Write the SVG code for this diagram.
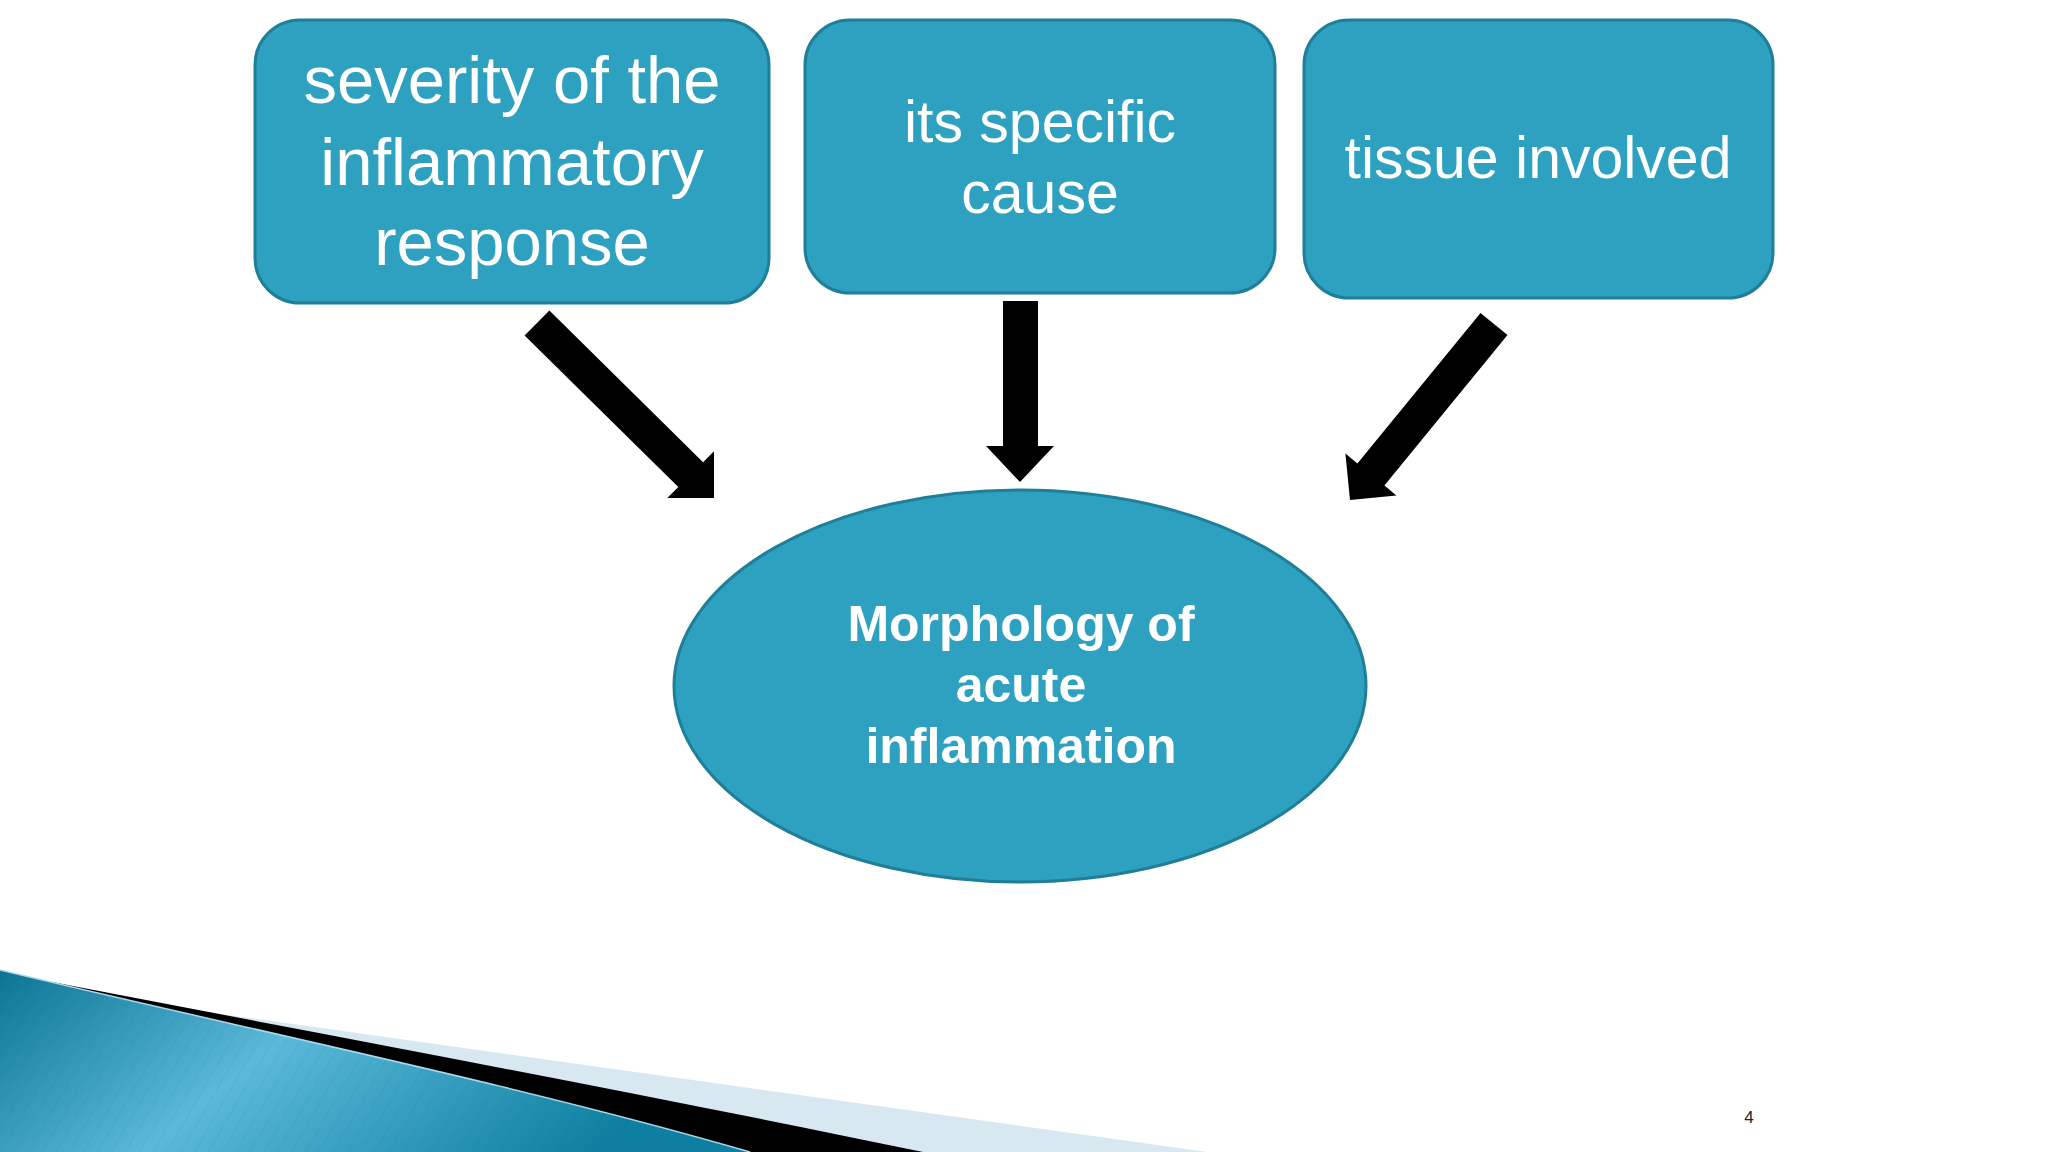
<svg xmlns="http://www.w3.org/2000/svg" width="2048" height="1152" viewBox="0 0 2048 1152">
  <defs>
    <style>
      .node { fill: #2DA1BF; stroke: #1F7E98; stroke-width: 3; }
      .lbl { font-family: "Liberation Sans", Arial, sans-serif; fill: #FFFFFF; text-anchor: middle; }
      .big { font-size: 67px; }
      .mid { font-size: 59px; }
      .bold { font-size: 50px; font-weight: bold; }
      .arrow { fill: #000000; }
    </style>
    <linearGradient id="swoosh" x1="0" y1="0" x2="1" y2="0.3">
      <stop offset="0" stop-color="#0C7593"/>
      <stop offset="0.45" stop-color="#5BB9DA"/>
      <stop offset="1" stop-color="#0E7FA0"/>
    </linearGradient>
    <pattern id="stripes" width="12" height="12" patternUnits="userSpaceOnUse" patternTransform="rotate(30)">
      <rect width="12" height="12" fill="none"/>
      <line x1="0" y1="0" x2="0" y2="12" stroke="#0A5E78" stroke-width="1" stroke-opacity="0.18"/>
    </pattern>
  </defs>
  <rect width="2048" height="1152" fill="#FFFFFF"/>

  <g id="decoration">
    <path d="M0,983 L1207,1152 L0,1152 Z" fill="#D8E8F1"/>
    <path d="M0,972 C300,1030 600,1085 923,1152 L0,1152 Z" fill="#000000"/>
    <path d="M0,970 C250,1030 520,1085 750,1152 L0,1152 Z" fill="url(#swoosh)"/>
    <path d="M0,970 C250,1030 520,1085 750,1152 L0,1152 Z" fill="url(#stripes)"/>
    <path d="M0,970 C250,1030 520,1085 750,1152" fill="none" stroke="#A8D8EA" stroke-width="1.5"/>
  </g>

  <g id="connectors">
    <polygon class="arrow" points="549.4,310.6 703.1,462.3 714,451.3 714,498 667.3,498 678.3,487.1 524.6,335.4"/>
    <polygon class="arrow" points="1003,301 1038,301 1038,446 1054,446 1020,482 986,446 1003,446"/>
    <polygon class="arrow" points="1480.5,312.9 1507.5,335.1 1384.4,485.6 1396.4,495.4 1350,500 1345.4,453.6 1357.4,463.4"/>
  </g>

  <g id="node-severity">
    <rect class="node" x="255" y="20" width="514" height="283" rx="45" ry="45"/>
    <text class="lbl big" x="512" y="103">severity of the</text>
    <text class="lbl big" x="512" y="185">inflammatory</text>
    <text class="lbl big" x="512" y="265">response</text>
  </g>

  <g id="node-cause">
    <rect class="node" x="805" y="20" width="470" height="273" rx="45" ry="45"/>
    <text class="lbl mid" x="1040" y="142">its specific</text>
    <text class="lbl mid" x="1040" y="213">cause</text>
  </g>

  <g id="node-tissue">
    <rect class="node" x="1304" y="20" width="469" height="278" rx="45" ry="45"/>
    <text class="lbl mid" x="1538" y="178">tissue involved</text>
  </g>

  <g id="node-morphology">
    <ellipse class="node" cx="1020" cy="686" rx="346" ry="196"/>
    <text class="lbl bold" x="1021" y="641">Morphology of</text>
    <text class="lbl bold" x="1021" y="702">acute</text>
    <text class="lbl bold" x="1021" y="763">inflammation</text>
  </g>

  <g id="page-number">
    <text x="1749" y="1123" font-family="Liberation Sans, Arial, sans-serif" font-size="17" fill="#222222" text-anchor="middle">4</text>
  </g>
</svg>
